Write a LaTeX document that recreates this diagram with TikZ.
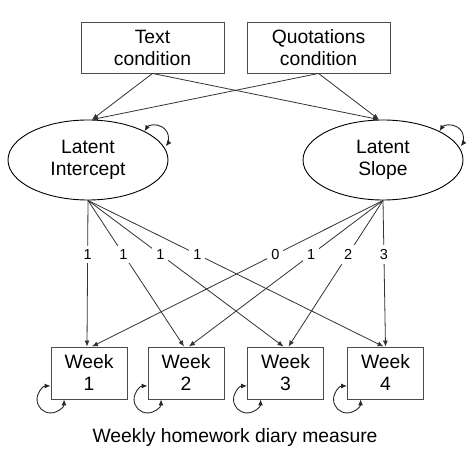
\documentclass[tikz,border=0pt]{standalone}
\usepackage{fontspec}
\setmainfont{Liberation Sans}
\usetikzlibrary{shapes.geometric,arrows.meta}

\begin{document}
\begin{tikzpicture}[x=1pt,y=1pt,
    every node/.style={font=\fontsize{19.3}{22}\selectfont, align=center},
    cond/.style={draw=black!70, line width=0.9pt, minimum width=143pt, minimum height=51pt, inner sep=0pt},
    latent/.style={ellipse, draw=black, line width=0.9pt, minimum width=160pt, minimum height=80pt, inner sep=0pt},
    week/.style={draw=black!70, line width=0.9pt, minimum width=76pt, minimum height=52pt, inner sep=0pt},
    path/.style={draw=black!80, line width=0.8pt, -{Latex[length=6pt,width=5pt]}},
    var/.style={draw=black!85, line width=0.9pt, {Latex[length=6pt,width=5pt]}-{Latex[length=6pt,width=5pt]}},
    load/.style={fill=white, inner sep=4pt, font=\fontsize{14.5}{16}\selectfont, pos=0.37}]
    \useasboundingbox (0,0) rectangle (474,474);

    % covariates
    \node[cond] (text) at (152.5,426.5) {Text\\condition};
    \node[cond] (quot) at (318.5,426.5) {Quotations\\condition};

    % growth factors
    \node[latent] (lint) at (88,314) {Latent\\Intercept};
    \node[latent] (lslope) at (383,314) {Latent\\Slope};

    % observed
    \node[week] (w1) at (89,101) {Week\\1};
    \node[week] (w2) at (186,101) {Week\\2};
    \node[week] (w3) at (285.5,101) {Week\\3};
    \node[week] (w4) at (385.5,101) {Week\\4};

    \node (caption) at (235,36) {Weekly homework diary measure};

    \draw[path] (text.south) -- ([xshift=4]lint.north);
    \draw[path] (text.south) -- ([xshift=-4]lslope.north);
    \draw[path] (quot.south) -- ([xshift=4]lint.north);
    \draw[path] (quot.south) -- ([xshift=-4]lslope.north);

    % loadings
    \draw[path] (lint.south) -- node[load] {1} ([xshift=-2]w1.north);
    \draw[path] (lint.south) -- node[load] {1} ([xshift=-2]w2.north);
    \draw[path] (lint.south) -- node[load] {1} ([xshift=-2]w3.north);
    \draw[path] (lint.south) -- node[load] {1} ([xshift=-2]w4.north);
    \draw[path] (lslope.south) -- node[load] {0} ([xshift=3]w1.north);
    \draw[path] (lslope.south) -- node[load] {1} ([xshift=3]w2.north);
    \draw[path] (lslope.south) -- node[load] {2} ([xshift=3]w3.north);
    \draw[path] (lslope.south) -- node[load] {3} ([xshift=0]w4.north);

    % variances
    \draw[var] (lint.27) arc[start angle=148, end angle=-39, radius=13];
    \draw[var] (lslope.27) arc[start angle=148, end angle=-39, radius=13];
    \foreach \w in {w1,w2,w3,w4}
        \draw[var] ([yshift=13.5]\w.south west) arc[start angle=90, end angle=360, radius=13.5];
\end{tikzpicture}
\end{document}
